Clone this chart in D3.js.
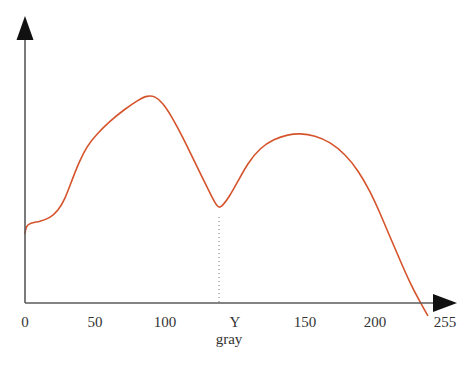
<!DOCTYPE html>
<html>
<head>
<meta charset="utf-8">
<script src="https://cdn.jsdelivr.net/npm/d3@7"></script>
<style>
  body { margin: 0; background: #fff; }
  #chart { width: 474px; height: 366px; }
</style>
</head>
<body>
<div id="chart"></div>
<script>
// Data (gray level, frequency)
const grayLevels = [0, 0.7, 3.6, 10.7, 17.9, 23.6, 28.6, 33.6, 38.6, 44.3, 51.4, 60.7, 71.4, 80.7,
  87.1, 92.9, 98.6, 102.5, 106.1, 109.6, 113.2, 116.1, 117.9, 119.3, 120.7, 122.9, 126.1,
  129.6, 133.9, 138.9, 143.9, 148.2, 157.1, 167.9, 178.6, 187.9, 196.4, 203.9, 211.8,
  219.6, 227.5, 235.4, 241.6];
const frequency = [24.0, 26.8, 27.9, 28.4, 29.6, 32.1, 36.2, 42.9, 49.1, 54.7, 58.9, 63.4, 67.6, 70.7,
  72.3, 72.1, 69.7, 64.8, 58.2, 51.2, 43.9, 38.3, 34.8, 32.9, 34.1, 36.9, 42.5,
  48.8, 54.0, 57.1, 58.7, 59.1, 58.4, 56.1, 51.9, 46.3, 39.0, 31.4, 23.0,
  15.0, 7.0, 0.3, -4.5];
const tickValues = [0, 50, 100, 125, 150, 200, 255];
const tickLabels = ["0", "50", "100", "Y", "150", "200", "255"];
const thresholdY = 119.3;

const width = 474;
const height = 366;
const svg = d3.select("#chart").append("svg")
  .attr("width", width)
  .attr("height", height);

// scales (labels in the figure are evenly spaced, so the x scale is piecewise)
const x = d3.scaleLinear()
  .domain([0, 50, 100, 150, 200, 255])
  .range([25, 95, 165, 305, 375, 445]);
const y = d3.scaleLinear()
  .domain([0, 100])
  .range([303, 16]);

const axisColor = "#5a5a5a";
const font = "'Liberation Serif', 'DejaVu Serif', serif";

// threshold dotted line
svg.append("line")
  .attr("x1", x(thresholdY)).attr("x2", x(thresholdY))
  .attr("y1", 217).attr("y2", y(0))
  .attr("stroke", "#777")
  .attr("stroke-width", 1)
  .attr("stroke-dasharray", "1,3");

// curve
const points = grayLevels.map((g, i) => [g, frequency[i]]);
const line = d3.line()
  .x(d => x(d[0]))
  .y(d => y(d[1]))
  .curve(d3.curveBasis);
svg.append("path")
  .datum(points)
  .attr("d", line)
  .attr("fill", "none")
  .attr("stroke", "#d5542c")
  .attr("stroke-width", 1.6);

// axes
svg.append("line")
  .attr("x1", x(0)).attr("x2", 434)
  .attr("y1", y(0)).attr("y2", y(0))
  .attr("stroke", axisColor).attr("stroke-width", 1.6);
svg.append("line")
  .attr("x1", x(0)).attr("x2", x(0))
  .attr("y1", y(0)).attr("y2", 40)
  .attr("stroke", axisColor).attr("stroke-width", 1.6);

// arrow heads
svg.append("path")
  .attr("d", `M${x(0)},${y(100)} L${x(0) - 8.5},40 L${x(0) + 8.5},40 Z`)
  .attr("fill", "#111");
svg.append("path")
  .attr("d", `M457,${y(0)} L433,${y(0) - 9} L433,${y(0) + 9} Z`)
  .attr("fill", "#111");

// tick labels
svg.selectAll(".tick-label")
  .data(tickValues)
  .enter()
  .append("text")
  .attr("class", "tick-label")
  .attr("x", d => x(d))
  .attr("y", 327)
  .attr("text-anchor", "middle")
  .attr("font-family", font)
  .attr("font-size", 15)
  .attr("fill", "#333")
  .text((d, i) => tickLabels[i]);

// axis title
svg.append("text")
  .attr("x", 229)
  .attr("y", 344)
  .attr("text-anchor", "middle")
  .attr("font-family", font)
  .attr("font-size", 15)
  .attr("fill", "#333")
  .text("gray");
</script>
</body>
</html>
